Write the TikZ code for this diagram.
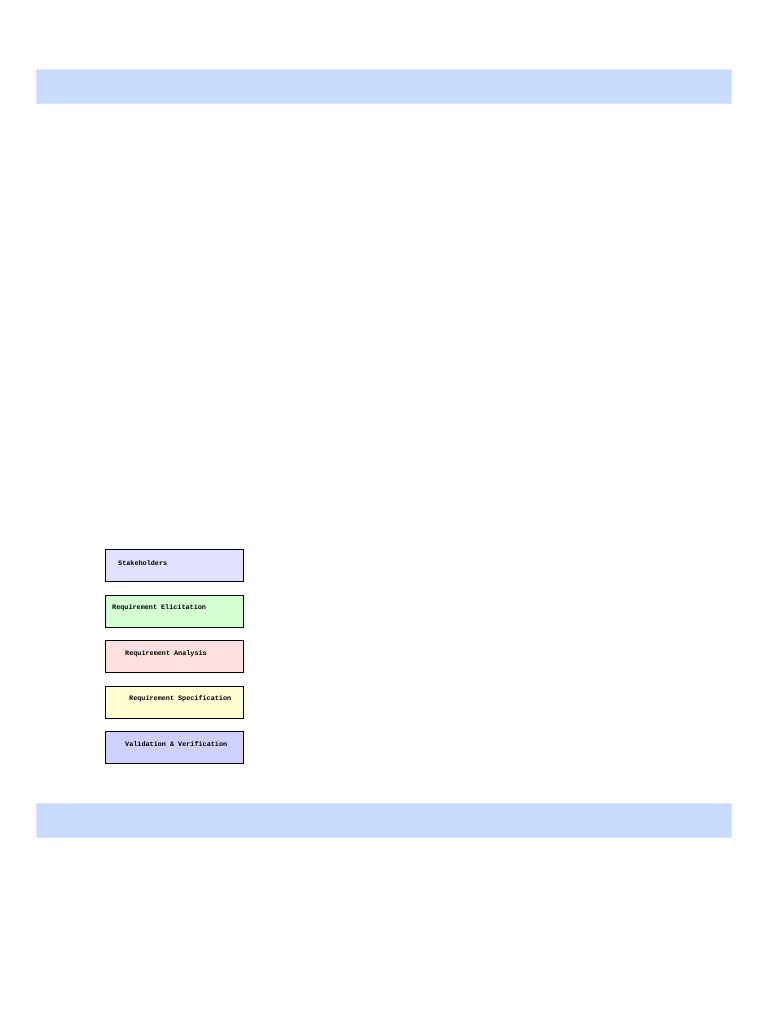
\documentclass[tikz,border=0pt]{standalone}
\usepackage{fontspec}
\setmonofont{Liberation Mono}
\definecolor{band}{HTML}{C9DCFF}
\definecolor{cA}{HTML}{E0E0FF}
\definecolor{cB}{HTML}{D3FFD3}
\definecolor{cC}{HTML}{FFE0E0}
\definecolor{cD}{HTML}{FFFFD3}
\definecolor{cE}{HTML}{D0D0FF}
\tikzset{
  bandbox/.style={fill=band, draw=band!70!white, line width=0.5pt},
  stagebox/.style={draw=black, line width=0.6pt},
  stagetext/.style={inner sep=0pt, anchor=west, font=\ttfamily\bfseries\fontsize{6.8}{8}\selectfont}
}
\begin{document}
\begin{tikzpicture}[x=1pt,y=-1pt]
\useasboundingbox (0,0) rectangle (768,1024);
\fill[white] (0,0) rectangle (768,1024);
\draw[bandbox] (36,69) rectangle (731,103);
\draw[bandbox] (36,803) rectangle (731,837);
\draw[stagebox, fill=cA] (105,549) rectangle (243,581);
\draw[stagebox, fill=cB] (105,595) rectangle (243,627);
\draw[stagebox, fill=cC] (105,640) rectangle (243,672);
\draw[stagebox, fill=cD] (105,686) rectangle (243,718);
\draw[stagebox, fill=cE] (105,731) rectangle (243,763);
\node[stagetext] (s1) at (118,563) {Stakeholders};
\node[stagetext] (s2) at (112,608) {Requirement Elicitation};
\node[stagetext] (s3) at (125,654) {Requirement Analysis};
\node[stagetext] (s4) at (129,699) {Requirement Specification};
\node[stagetext] (s5) at (125,744) {Validation \& Verification};
\end{tikzpicture}
\end{document}
